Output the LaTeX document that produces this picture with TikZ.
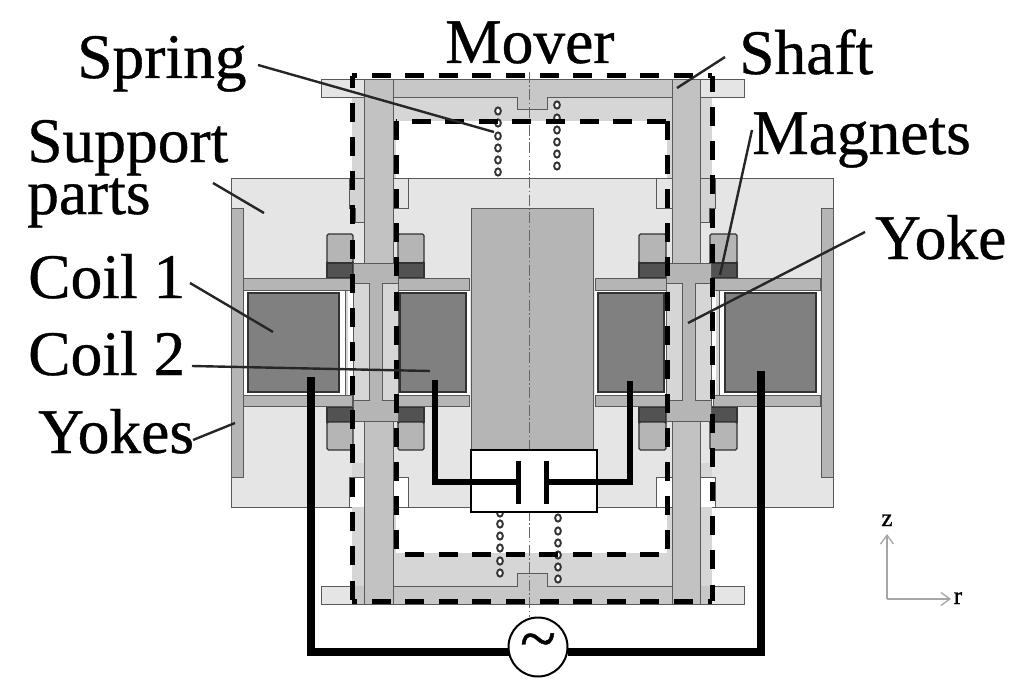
\documentclass[tikz,border=0pt]{standalone}
\usepackage{fontspec}
\setmainfont{Liberation Serif}
\newfontfamily\labfont[FakeBold=0.6]{Liberation Serif}
\newfontfamily\axfont[FakeBold=1.2]{Liberation Serif}
\usetikzlibrary{arrows.meta}
\definecolor{sup}{gray}{.9}
\definecolor{mov}{gray}{.84}
\definecolor{plate}{gray}{.78}
\definecolor{shaft}{gray}{.76}
\definecolor{ykc}{gray}{.71}
\definecolor{coil}{gray}{.5}
\definecolor{mag}{gray}{.32}
\tikzset{
 part/.style={draw=black!65,line width=1pt},
 dark/.style={draw=black!80,line width=1.2pt},
 lab/.style={font=\labfont\fontsize{63.5}{63.5}\selectfont,anchor=base west,inner sep=0pt},
 lead/.style={draw=black!85,line width=2.4pt},
 dashbox/.style={draw=black,line width=5pt},
 dashh/.style={dashbox,dash pattern=on 19pt off 14.6pt},
 dashv/.style={dashbox,dash pattern=on 19pt off 15.1pt},
 wireA/.style={draw=black,line width=8.5pt,line cap=butt,line join=miter},
 wireB/.style={draw=black,line width=6pt,line cap=butt,line join=miter},
 turn/.style={draw=black!80,line width=1.9pt,fill=white},
 axis/.style={draw=black!35,line width=1.5pt,-{Straight Barb[length=9pt,width=13pt,line width=1.3pt]}},
 axl/.style={font=\axfont\fontsize{25}{25}\selectfont,inner sep=0pt}
}
\begin{document}
\begin{tikzpicture}[x=1pt,y=-1pt]
\useasboundingbox (0,0) rectangle (1024,690);
% support body
\path[part,fill=sup] (231,178) rectangle (833,507);
% mover light area
\fill[mov] (352,80) rectangle (712,121);
\fill[mov] (352,553) rectangle (712,604);
\fill[mov] (352,80) rectangle (364,178);
\fill[mov] (393,121) rectangle (396,178);
\fill[mov] (700,80) rectangle (712,178);
\fill[mov] (667,121) rectangle (672,178);
\fill[mov] (352,507) rectangle (364,604);
\fill[mov] (700,507) rectangle (712,604);
\fill[mov] (393,507) rectangle (396,553);
\fill[mov] (667,507) rectangle (672,553);
% top and bottom plates
\path[part,fill=sup] (321,80) rectangle (744,98);
\path[part,fill=sup] (321,586) rectangle (744,604);
\fill[plate] (352,586) rectangle (712,604);
\path[part,fill=plate] (364,80) -- (700,80) -- (700,98) -- (547,98) -- (547,110) -- (517,110) -- (517,98) -- (364,98) -- cycle;
\path[part,fill=plate] (364,604) -- (700,604) -- (700,586) -- (547,586) -- (547,573) -- (517,573) -- (517,586) -- (364,586) -- cycle;
% bearing notches
\path[part,fill=ykc!60] (349,178) -- (364,178) -- (364,222) -- (355,222) -- (355,208) -- (349,208) -- cycle;
\path[part,fill=sup] (393,178) -- (408,178) -- (408,208) -- (393,208);
\path[part,fill=sup] (672,178) -- (656,178) -- (656,208) -- (672,208);
\path[part,fill=ykc!60] (715,178) -- (700,178) -- (700,222) -- (709,222) -- (709,208) -- (715,208) -- cycle;
\path[part,fill=white] (349,507) -- (349,477) -- (364,477) -- (364,507);
\fill[mov] (352,463) rectangle (364,477);
\path[part,fill=white] (393,477) -- (408,477) -- (408,507) -- (393,507);
\path[part,fill=white] (672,477) -- (656,477) -- (656,507) -- (672,507);
\path[part,fill=white] (715,507) -- (715,477) -- (700,477) -- (700,507);
\fill[mov] (700,463) rectangle (712,477);
% magnets and pole blocks
\foreach \a/\b in {327/353,398/424,639/666,710/737}{
  \path[dark,fill=ykc,rounded corners=1.5pt] (\a,234) rectangle (\b,263);
  \path[dark,fill=mag] (\a,263) rectangle (\b,278);
  \path[dark,fill=mag] (\a,407) rectangle (\b,422);
  \path[dark,fill=ykc,rounded corners=1.5pt] (\a,422) rectangle (\b,450);
}
% coil windows
\fill[white] (243,278) rectangle (353,406);
\fill[white] (396,278) rectangle (470,406);
\fill[white] (595,278) rectangle (668,406);
\fill[white] (712,278) rectangle (821,406);
\fill[mov] (345,289) rectangle (348,395);
\fill[mov] (716,289) rectangle (719,395);
\draw[part] (345,289) -- (345,395);
\draw[part] (719,289) -- (719,395);
% yoke plates
\foreach \a/\b in {243/352,398/469,595/666,713/820}{
  \path[part,fill=ykc] (\a,278) rectangle (\b,290);
  \path[part,fill=ykc] (\a,395) rectangle (\b,406);
}
% coils
\foreach \a/\b in {248/339,400/466,598/664,725/816}
  \path[dark,fill=coil] (\a,293) rectangle (\b,392);
% outer yokes
\path[part,fill=ykc] (231,208) rectangle (243,477);
\path[part,fill=ykc] (821,208) rectangle (833,477);
% shafts
\foreach \a/\b in {364/393,672/700}{
  \path[part,fill=shaft] (\a,80) rectangle (\b,263);
  \path[part,fill=shaft] (\a,421) rectangle (\b,604);
}
% movable yoke (H shaped)
\foreach \a/\b/\c in {353/369/382,666/682/695}{
  \pgfmathsetmacro{\d}{\c+16}
  \path[part,fill=ykc] (\a,263) rectangle (\d,421);
  \path[part,fill=mov] (\a,283) rectangle (\b,400);
  \path[part,fill=mov] (\c,283) rectangle (\d,400);
}
% central block
\path[part,fill=ykc] (471,208) rectangle (593,450);
% springs
\foreach \y in {111,123,136,148,160,172} \path[turn] (498,\y) circle[x radius=2.9pt,y radius=3.6pt];
\foreach \y in {105,118,130,142,154,166} \path[turn] (557,\y) circle[x radius=2.9pt,y radius=3.6pt];
\foreach \y in {513,524,536,548,561,573} \path[turn] (500,\y) circle[x radius=2.9pt,y radius=3.6pt];
\foreach \y in {518,531,543,555,567,579} \path[turn] (558,\y) circle[x radius=2.9pt,y radius=3.6pt];
% axis of symmetry
\coordinate (cta) at (529,72);
\coordinate (ctb) at (529,617);
\draw[black!60,line width=.8pt,dash pattern=on 11pt off 2.5pt on 1.5pt off 2.5pt] (cta) -- (ctb);
% dashed boxes (each side with its own phase)
\coordinate (oa) at (352,76); \coordinate (ob) at (712,76);
\coordinate (oc) at (712,601); \coordinate (od) at (352,601);
\coordinate (ia) at (396,121); \coordinate (ib) at (667,121);
\coordinate (ic) at (667,554); \coordinate (id) at (396,554);
\draw[dashh,dash phase=14] (oa) -- (ob);
\draw[dashh,dash phase=14] (od) -- (oc);
\draw[dashv,dash phase=7] (oa) -- (od);
\draw[dashv,dash phase=3] (ob) -- (oc);
\draw[dashh,dash phase=18] (ia) -- (ib);
\draw[dashh,dash phase=24.6] (id) -- (ic);
\draw[dashv,dash phase=0] (ia) -- (id);
\draw[dashv,dash phase=0] (ib) -- (ic);
% capacitor
\node[draw=black,line width=2pt,fill=white,minimum width=126pt,minimum height=62pt,inner sep=0pt,outer sep=0pt,anchor=north west] (capbox) at (471,450) {};
\coordinate (pa) at (518,482);
\coordinate (pb) at (546,482);
\draw[black,line width=5pt] (518,461) -- (518,504);
\draw[black,line width=5pt] (546,461) -- (546,504);
% source
\node[circle,draw=black,line width=2pt,fill=white,minimum size=59pt,inner sep=0pt,outer sep=0pt,font=\labfont\fontsize{66}{66}\selectfont] (src) at (538,647) {\textasciitilde};
% wires
\coordinate (wa) at (311,377);
\coordinate (wb) at (761,371);
\coordinate (wc) at (435,380);
\coordinate (wd) at (630,381);
\draw[wireA] (wa) -- (311,652) -- (src.west |- 0,652);
\draw[wireA] (wb) -- (761,652) -- (src.east |- 0,652);
\draw[wireB] (wc) -- (435,482) -- (pa);
\draw[wireB] (wd) -- (630,482) -- (pb);
% labels
\node[lab] (lspring) at (77,78) {Spring};
\node[lab] (lmover) at (445,63) {Mover};
\node[lab] (lshaft) at (739,74) {Shaft};
\node[lab] (lsup) at (27,162) {Support};
\node[lab] (lparts) at (27,214) {parts};
\node[lab] (lmag) at (752,154) {Magnets};
\node[lab] (lyoke) at (875,259) {Yoke};
\node[lab] (lc1) at (28,298) {Coil 1};
\node[lab] (lc2) at (28,375) {Coil 2};
\node[lab] (lyokes) at (38,453) {Yokes};
% leaders
\coordinate (e1) at (494,132); \coordinate (s1) at (258,65);
\coordinate (e2) at (264,213); \coordinate (s2) at (213,183);
\coordinate (e3) at (273,332); \coordinate (s3) at (190,283);
\coordinate (e4) at (430,371); \coordinate (s4) at (192,366);
\coordinate (e5) at (235,423); \coordinate (s5) at (193,440);
\coordinate (e6) at (677,88);  \coordinate (s6) at (725,57);
\coordinate (e7) at (720,275); \coordinate (s7) at (752,130);
\coordinate (e8) at (688,323); \coordinate (s8) at (865,232);
\foreach \i in {1,...,8} \path[lead] (s\i) -- (e\i);
% axes
\coordinate (org) at (887,599);
\coordinate (az) at (887,534);
\coordinate (ar) at (951,599);
\path[axis] (org) -- (az);
\path[axis] (org) -- (ar);
\node[axl,anchor=base] (lz) at (887,526) {z};
\node[axl,anchor=base] (lr) at (958,604) {r};
\end{tikzpicture}
\end{document}
